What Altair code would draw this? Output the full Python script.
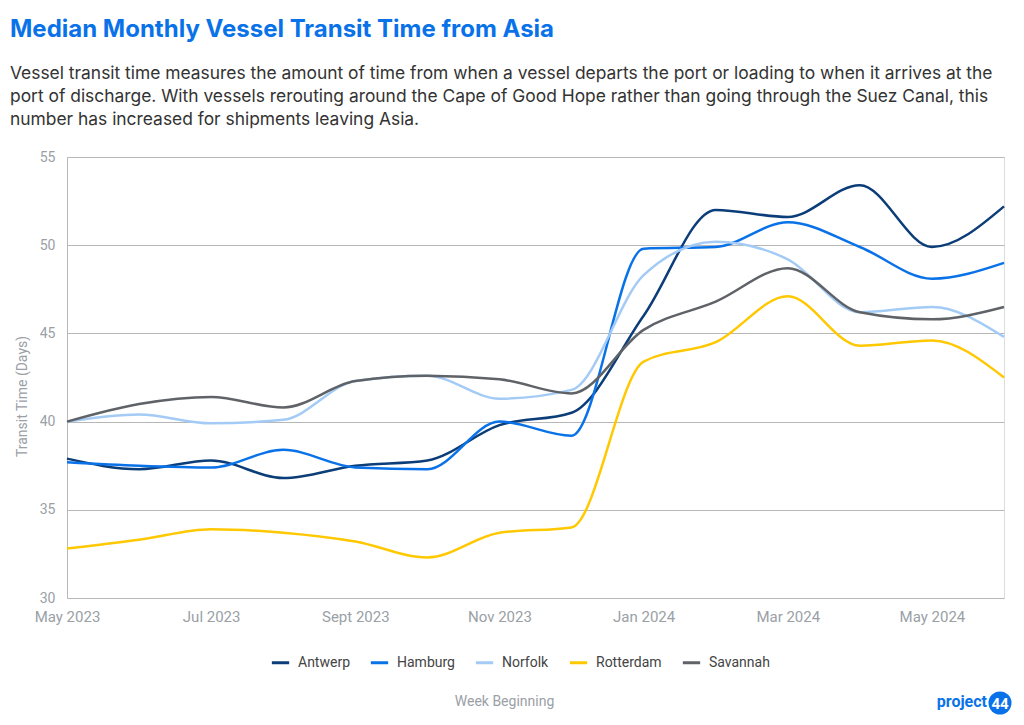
import altair as alt
import pandas as pd

months = ["May 2023", "Jun 2023", "Jul 2023", "Aug 2023", "Sept 2023", "Oct 2023",
          "Nov 2023", "Dec 2023", "Jan 2024", "Feb 2024", "Mar 2024", "Apr 2024",
          "May 2024", "Jun 2024"]
tick_months = ["May 2023", "Jul 2023", "Sept 2023", "Nov 2023", "Jan 2024", "Mar 2024", "May 2024"]

antwerp   = [37.9, 37.3, 37.8, 36.8, 37.5, 37.8, 39.8, 40.5, 46.0, 52.0, 51.6, 53.4, 49.9, 52.2]
hamburg   = [37.7, 37.5, 37.4, 38.4, 37.4, 37.3, 40.0, 39.2, 49.8, 49.9, 51.3, 49.9, 48.1, 49.0]
norfolk   = [40.0, 40.4, 39.9, 40.1, 42.3, 42.6, 41.3, 41.8, 48.3, 50.2, 49.2, 46.2, 46.5, 44.8]
rotterdam = [32.8, 33.3, 33.9, 33.7, 33.2, 32.3, 33.7, 34.0, 43.4, 44.5, 47.1, 44.3, 44.6, 42.5]
savannah  = [40.0, 41.0, 41.4, 40.8, 42.3, 42.6, 42.4, 41.6, 45.2, 46.8, 48.7, 46.2, 45.8, 46.5]

ports = ["Antwerp", "Hamburg", "Norfolk", "Rotterdam", "Savannah"]
colors = ["#0b3d78", "#0a72e8", "#a3cbf5", "#ffc800", "#5f6368"]
series = [antwerp, hamburg, norfolk, rotterdam, savannah]

rows = []
for port, vals in zip(ports, series):
    for m, v in zip(months, vals):
        rows.append({"month": m, "port": port, "days": v})
df = pd.DataFrame(rows)

W, H = 937, 441

lines = alt.Chart(df).mark_line(interpolate="monotone", strokeWidth=2.5).encode(
    x=alt.X("month:O", sort=months,
            scale=alt.Scale(type="point", padding=0),
            axis=alt.Axis(values=tick_months, labelAngle=0, ticks=False, domain=False,
                          grid=False, labelFont="Roboto", labelFontSize=15,
                          labelColor="#9aa0a6", labelPadding=11,
                          title="Week Beginning", titleFont="Roboto", titleFontSize=14,
                          titleFontWeight="normal", titleColor="#9aa0a6",
                          titleX=437, titleY=96, titleAnchor="middle")),
    y=alt.Y("days:Q", scale=alt.Scale(domain=[30, 55], nice=False, zero=False),
            axis=alt.Axis(values=[30, 35, 40, 45, 50, 55], ticks=False, domain=True,
                          domainColor="#b7b7b7", gridColor="#b7b7b7", gridWidth=1.2,
                          labelFont="Roboto", labelFontSize=14, labelColor="#9aa0a6",
                          labelPadding=12,
                          title="Transit Time (Days)", titleFont="Roboto", titleFontSize=14,
                          titleFontWeight="normal", titleColor="#9aa0a6",
                          titleX=-45, titleY=239, titleAngle=-90, titleBaseline="middle",
                          titleAnchor="middle")),
    color=alt.Color("port:N", scale=alt.Scale(domain=ports, range=colors),
                    legend=alt.Legend(title=None, orient="none", direction="horizontal",
                                      columns=5, legendX=203, legendY=495,
                                      symbolType="stroke", symbolStrokeWidth=3,
                                      symbolSize=300, labelFont="Roboto",
                                      labelFontSize=14, labelColor="#444444",
                                      labelOffset=7, columnPadding=14)),
)

logo_text = alt.Chart(pd.DataFrame({"t": ["project"]})).mark_text(
    font="Roboto", fontSize=16, fontWeight="bold", color="#0a72e8",
    align="right", baseline="middle").encode(
    text="t:N", x=alt.value(920), y=alt.value(545))
logo_circle = alt.Chart(pd.DataFrame({"t": ["44"]})).mark_circle(
    size=530, opacity=1, color="#0a72e8").encode(x=alt.value(933), y=alt.value(546))
logo_num = alt.Chart(pd.DataFrame({"t": ["44"]})).mark_text(
    font="Roboto", fontSize=15, fontWeight="bold", color="white",
    align="center", baseline="middle").encode(
    text="t:N", x=alt.value(933), y=alt.value(547))

chart = alt.layer(lines, logo_text, logo_circle, logo_num).properties(
    width=W, height=H,
    autosize=alt.AutoSizeParams(type="none"),
    padding={"left": 67, "top": 157, "right": 20, "bottom": 127},
    title=alt.TitleParams(
        text="Median Monthly Vessel Transit Time from Asia",
        subtitle=[
            "Vessel transit time measures the amount of time from when a vessel departs the port or loading to when it arrives at the",
            "port of discharge. With vessels rerouting around the Cape of Good Hope rather than going through the Suez Canal, this",
            "number has increased for shipments leaving Asia.",
        ],
        anchor="start", frame="group", dx=-57, offset=22,
        font="Inter", fontSize=24, fontWeight="bold", color="#0a72e8",
        subtitleFont="Inter", subtitleFontSize=17.4, subtitleColor="#333333",
        subtitleLineHeight=23, subtitlePadding=23,
    ),
).configure_view(stroke=None).configure(background="white")

chart.save("out.html", embed_options={"renderer": "svg", "actions": False})
